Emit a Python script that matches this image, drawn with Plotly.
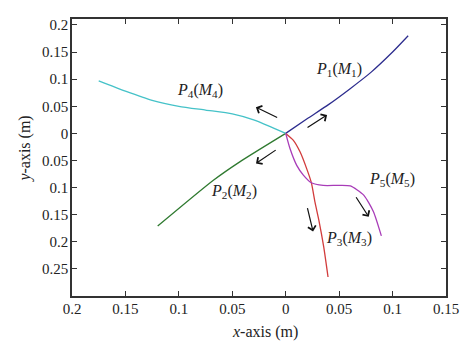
import plotly.graph_objects as go

# Trajectories (x, y in metres)
p1_x = [0, 0.02, 0.04, 0.06, 0.08, 0.1, 0.1146]
p1_y = [0, 0.027, 0.053, 0.082, 0.113, 0.150, 0.180]

p2_x = [0, -0.043, -0.0677, -0.1198]
p2_y = [0, -0.0525, -0.0865, -0.171]

p3_x = [0, 0.007, 0.0134, 0.0196, 0.024, 0.0274, 0.031, 0.0356, 0.0396]
p3_y = [0, -0.0124, -0.034, -0.065, -0.091, -0.127, -0.160, -0.210, -0.265]

p4_x = [-0.175, -0.15, -0.125, -0.10, -0.075, -0.05, -0.03, -0.015, 0]
p4_y = [0.097, 0.078, 0.061, 0.050, 0.043, 0.036, 0.025, 0.013, 0]

p5_x = [0, 0.004, 0.0103, 0.0165, 0.024, 0.035, 0.049, 0.0605, 0.073, 0.082, 0.0895]
p5_y = [0, -0.028, -0.059, -0.077, -0.091, -0.096, -0.096, -0.097, -0.114, -0.144, -0.189]

series_names = ["P1(M1)", "P2(M2)", "P3(M3)", "P4(M4)", "P5(M5)"]

label_text = [
    "<i>P</i><sub>1</sub>(<i>M</i><sub>1</sub>)",
    "<i>P</i><sub>2</sub>(<i>M</i><sub>2</sub>)",
    "<i>P</i><sub>3</sub>(<i>M</i><sub>3</sub>)",
    "<i>P</i><sub>4</sub>(<i>M</i><sub>4</sub>)",
    "<i>P</i><sub>5</sub>(<i>M</i><sub>5</sub>)",
]
label_x = [0.0495, -0.0487, 0.0588, -0.0802, 0.0999]
label_y = [0.1175, -0.108, -0.193, 0.080, -0.0846]

# Direction arrows: tail -> head
arrow_tail_x = [0.019, -0.008, 0.020, -0.0066, 0.065]
arrow_tail_y = [0.009, -0.029, -0.135, 0.028, -0.115]
arrow_head_x = [0.0387, -0.0278, 0.0256, -0.0279, 0.0777]
arrow_head_y = [0.034, -0.0556, -0.181, 0.0482, -0.154]

x_tick_vals = [-0.2, -0.15, -0.1, -0.05, 0, 0.05, 0.1, 0.15]
x_tick_text = ["0.2", "0.15", "0.1", "0.05", "0", "0.05", "0.1", "0.15"]
y_tick_vals = [0.2, 0.15, 0.1, 0.05, 0, -0.05, -0.1, -0.15, -0.2, -0.25]
y_tick_text = ["0.2", "0.15", "0.1", "0.05", "0", "0.05", "0.1", "0.15", "0.2", "0.25"]

x_title = "<i>x</i>-axis (m)"
y_title = "<i>y</i>-axis (m)"

colors = ["#2c2c8e", "#2f7a30", "#d23c3c", "#45c2c8", "#a83cb8"]
xs = [p1_x, p2_x, p3_x, p4_x, p5_x]
ys = [p1_y, p2_y, p3_y, p4_y, p5_y]

FONT = "Liberation Serif"
TXT = "#222"

fig = go.Figure()
for name, x, y, c in zip(series_names, xs, ys, colors):
    fig.add_trace(go.Scatter(x=x, y=y, mode="lines", name=name,
                             line=dict(color=c, width=1.3, shape="spline", smoothing=0.6),
                             showlegend=False))

for t, x, y in zip(label_text, label_x, label_y):
    fig.add_annotation(x=x, y=y, text=t, showarrow=False,
                       xanchor="center", yanchor="middle",
                       font=dict(family=FONT, size=16, color=TXT))

for tx, ty, hx, hy in zip(arrow_tail_x, arrow_tail_y, arrow_head_x, arrow_head_y):
    fig.add_annotation(x=hx, y=hy, ax=tx, ay=ty, xref="x", yref="y",
                       axref="x", ayref="y", text="", showarrow=True,
                       arrowhead=4, arrowsize=1.3, arrowwidth=1.2, arrowcolor="#111")

# axis titles placed as paper annotations
fig.add_annotation(x=0.516, y=-0.13, xref="paper", yref="paper", text=x_title,
                   xanchor="center", yanchor="middle",
                   showarrow=False, font=dict(family=FONT, size=16, color=TXT))
fig.add_annotation(x=-0.1257, y=0.532, xref="paper", yref="paper", text=y_title,
                   xanchor="center", yanchor="middle",
                   showarrow=False, textangle=-90, font=dict(family=FONT, size=16, color=TXT))

axis_common = dict(showgrid=False, zeroline=False, showline=True, linecolor="#333",
                   linewidth=1.5, mirror="ticks", ticks="inside", ticklen=5,
                   tickcolor="#333", tickwidth=1.2, automargin=False,
                   tickfont=dict(family=FONT, size=15, color=TXT))

fig.update_xaxes(range=[-0.2, 0.15], tickvals=x_tick_vals, ticktext=x_tick_text,
                 ticklabelstandoff=-2, **axis_common)
fig.update_yaxes(range=[-0.3, 0.211], tickvals=y_tick_vals, ticktext=y_tick_text,
                 ticklabelstandoff=-1, **axis_common)

# page body has an 8px margin, so the figure is slightly smaller than the window
fig.update_layout(width=466, height=349, margin=dict(l=64, r=28, t=11, b=61),
                  paper_bgcolor="white", plot_bgcolor="white")

fig.write_html("out.html")
